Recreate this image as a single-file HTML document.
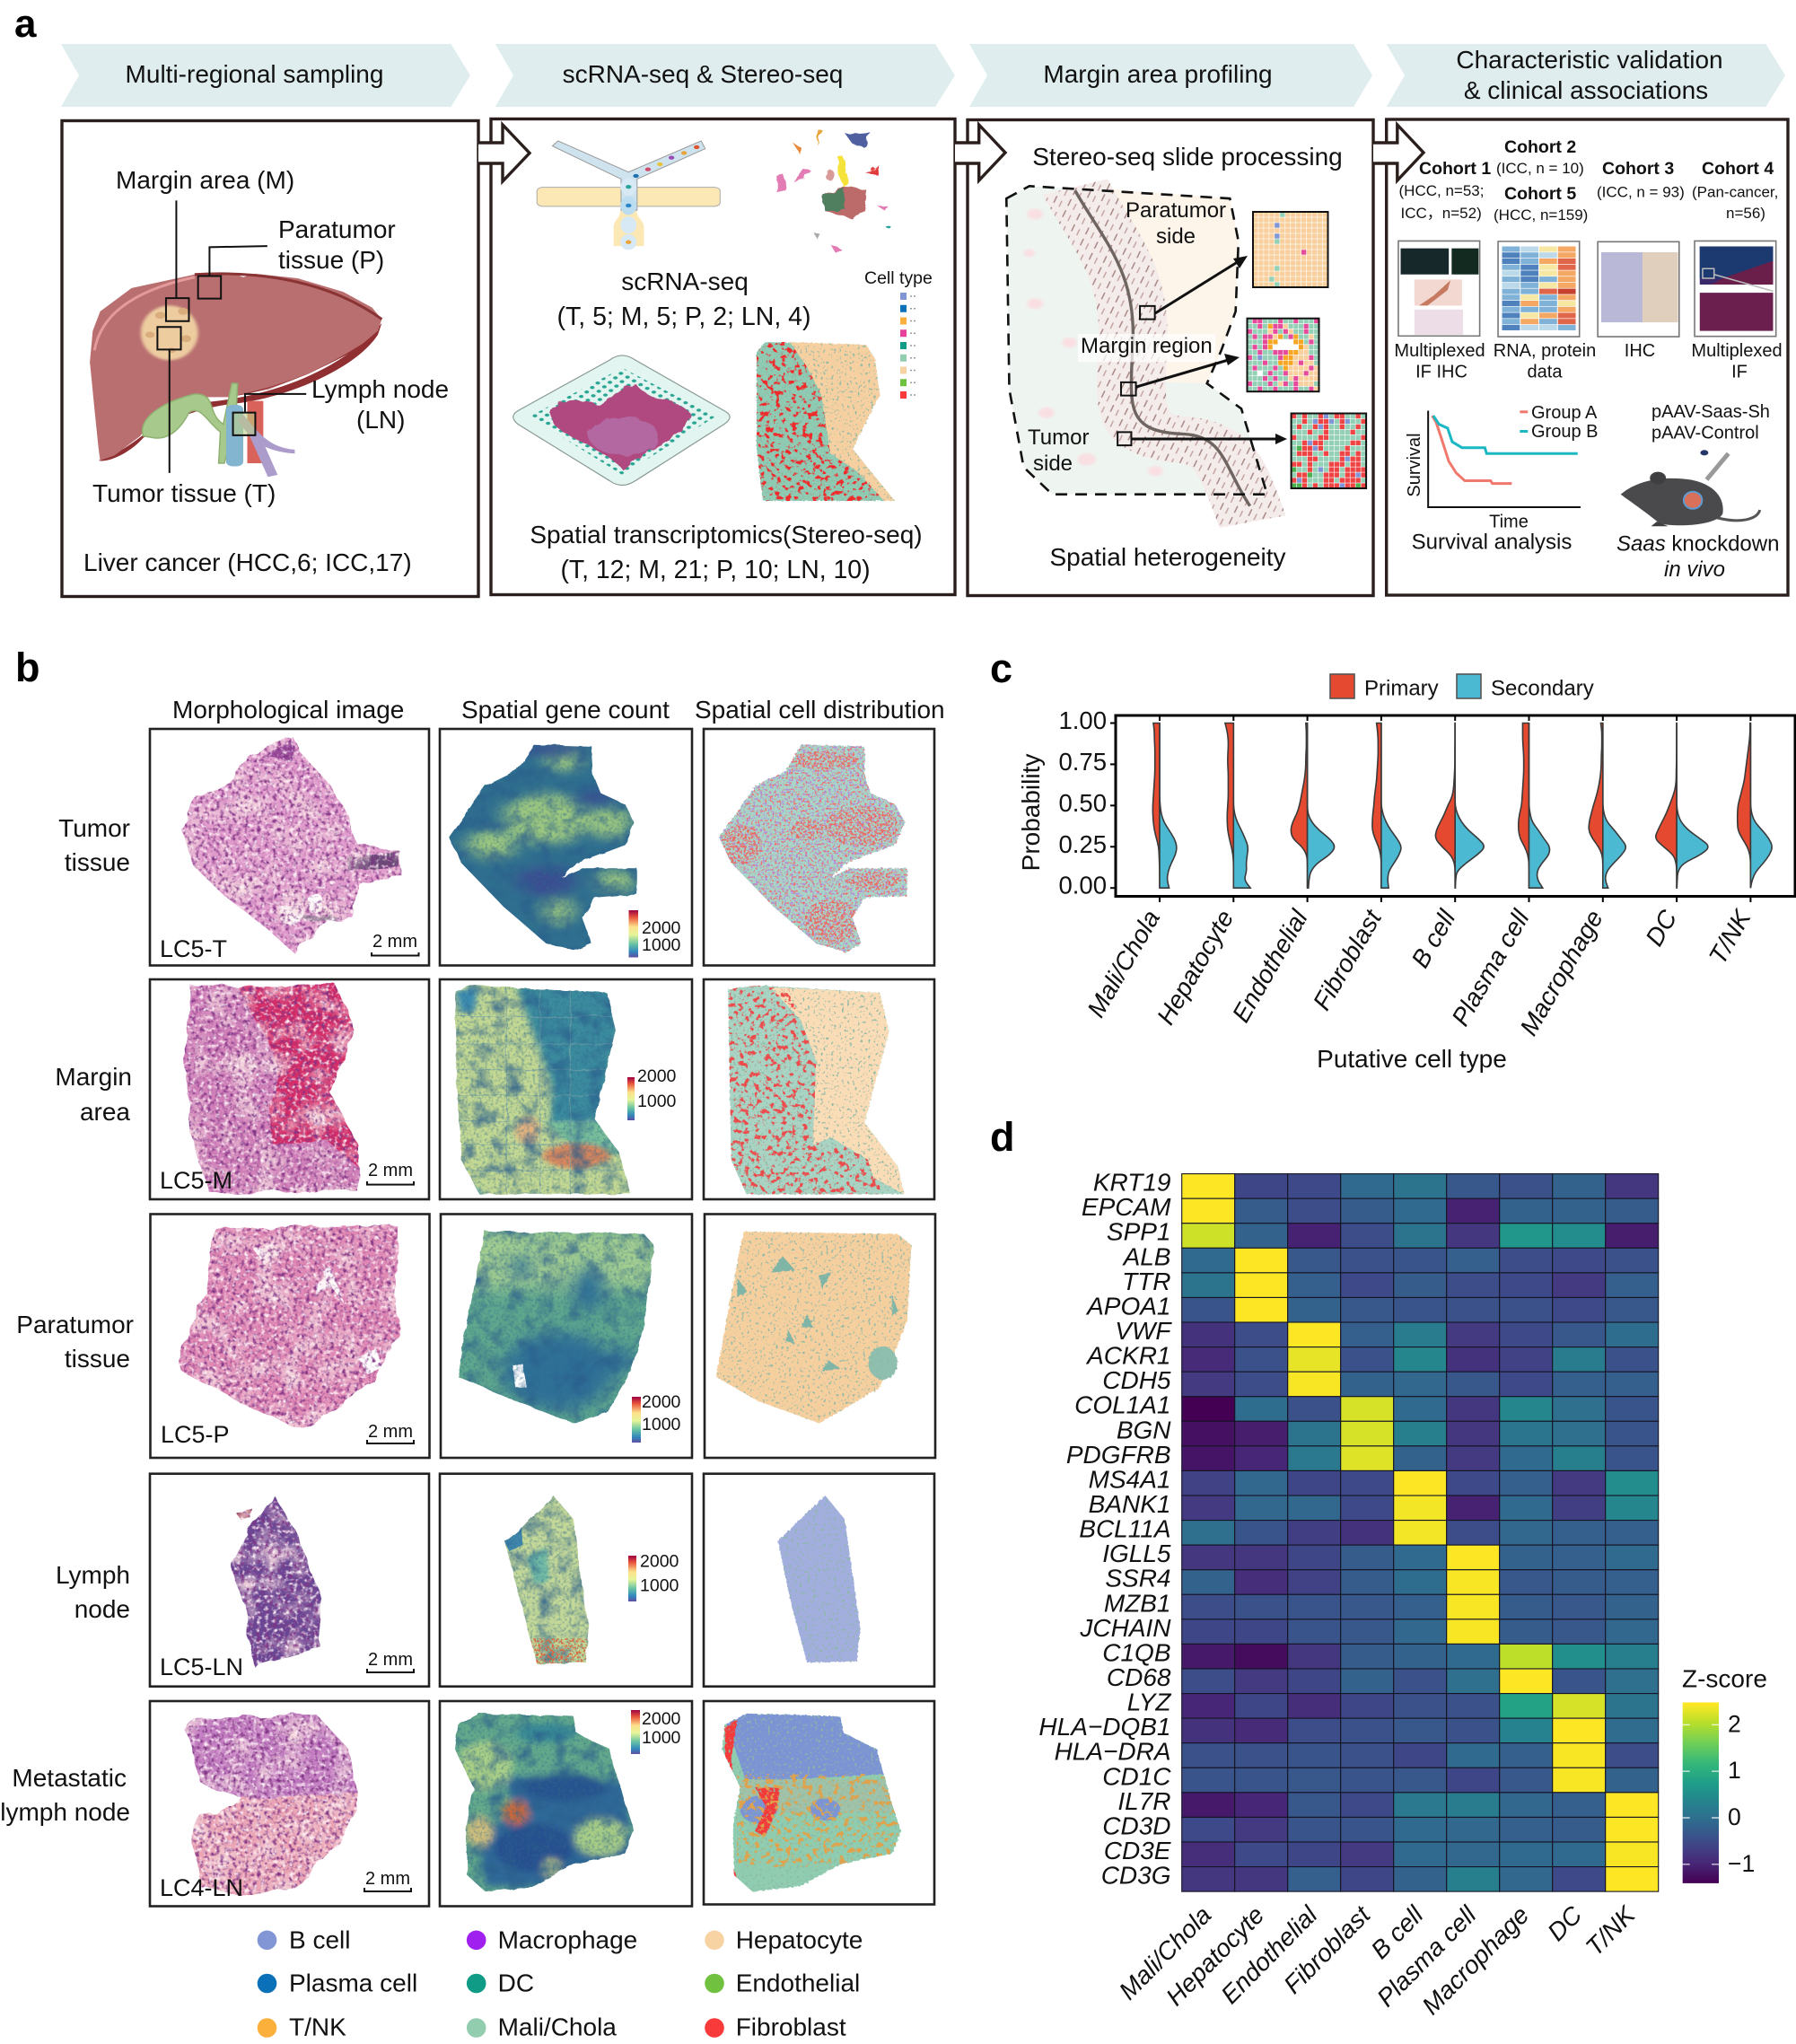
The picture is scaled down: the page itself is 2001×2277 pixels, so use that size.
<!DOCTYPE html>
<html lang="en">
<head>
<meta charset="utf-8">
<title>Spatial transcriptomics liver cancer figure</title>
<style>
html,body{margin:0;padding:0;background:#fff}
svg{display:block}
text{font-family:"Liberation Sans","Noto Sans CJK SC",sans-serif;fill:#111}
.f{fill:none;stroke:#222;stroke-width:2.6}
.b{fill:none;stroke:#2a1f1c;stroke-width:3.4}
.ns{vector-effect:non-scaling-stroke}
.sq{fill:none;stroke:#111;stroke-width:2;vector-effect:non-scaling-stroke}
</style>
</head>
<body>
<svg id="fig" xmlns="http://www.w3.org/2000/svg" width="2001" height="2277" viewBox="0 0 2001 2277">
<defs>
<linearGradient id="spectral" x1="0" y1="0" x2="0" y2="1">
<stop offset="0" stop-color="#9e0142"/><stop offset=".15" stop-color="#e8553c"/><stop offset=".35" stop-color="#fee08b"/><stop offset=".52" stop-color="#e6f598"/><stop offset=".72" stop-color="#66c2a5"/><stop offset=".88" stop-color="#3288bd"/><stop offset="1" stop-color="#5e4fa2"/>
</linearGradient>
<filter id="he" x="-5%" y="-5%" width="110%" height="110%" color-interpolation-filters="sRGB">
<feTurbulence type="fractalNoise" baseFrequency=".035" numOctaves="3" seed="7" result="n1"/>
<feTurbulence type="fractalNoise" baseFrequency=".22" numOctaves="2" seed="3" result="n2"/>
<feDisplacementMap in="SourceGraphic" in2="n1" scale="12" result="s"/>
<feColorMatrix in="n1" type="matrix" values="0 0 0 0 .96 0 0 0 0 .85 0 0 0 0 .87 0 2.4 0 0 -1.05" result="l"/>
<feComposite in="l" in2="s" operator="in" result="l2"/>
<feColorMatrix in="n2" type="matrix" values="0 0 0 0 .5 0 0 0 0 .2 0 0 0 0 .52 3 0 0 0 -1.4" result="d"/>
<feComposite in="d" in2="s" operator="in" result="d2"/>
<feColorMatrix in="n2" type="matrix" values="0 0 0 0 1 0 0 0 0 .95 0 0 0 0 .97 0 3 0 0 -1.5" result="w"/>
<feComposite in="w" in2="s" operator="in" result="w2"/>
<feMerge><feMergeNode in="s"/><feMergeNode in="l2"/><feMergeNode in="d2"/><feMergeNode in="w2"/></feMerge>
</filter>
<filter id="gene" x="-5%" y="-5%" width="110%" height="110%" color-interpolation-filters="sRGB">
<feTurbulence type="fractalNoise" baseFrequency=".055" numOctaves="3" seed="11" result="n1"/>
<feTurbulence type="fractalNoise" baseFrequency=".32" numOctaves="2" seed="4" result="n2"/>
<feDisplacementMap in="SourceGraphic" in2="n1" scale="5" result="s"/>
<feColorMatrix in="n1" type="matrix" values="0 0 0 0 .16 0 0 0 0 .36 0 0 0 0 .55 1.8 0 0 0 -.8" result="d"/>
<feComposite in="d" in2="s" operator="in" result="d2"/>
<feColorMatrix in="n2" type="matrix" values="0 0 0 0 .2 0 0 0 0 .42 0 0 0 0 .55 1.4 0 0 0 -.65" result="g"/>
<feComposite in="g" in2="s" operator="in" result="g2"/>
<feMerge><feMergeNode in="s"/><feMergeNode in="d2"/><feMergeNode in="g2"/></feMerge>
</filter>
<filter id="speck" x="-5%" y="-5%" width="110%" height="110%" color-interpolation-filters="sRGB">
<feTurbulence type="fractalNoise" baseFrequency=".38" numOctaves="2" seed="5" result="n"/>
<feDisplacementMap in="SourceGraphic" in2="n" scale="4" result="s"/>
<feColorMatrix in="n" type="matrix" values="0 0 0 0 .95 0 0 0 0 .42 0 0 0 0 .42 7 0 0 0 -3.9" result="r"/>
<feComposite in="r" in2="s" operator="in" result="r2"/>
<feColorMatrix in="n" type="matrix" values="0 0 0 0 .7 0 0 0 0 .55 0 0 0 0 .87 0 7 0 0 -3.9" result="m"/>
<feComposite in="m" in2="s" operator="in" result="m2"/>
<feMerge><feMergeNode in="s"/><feMergeNode in="r2"/><feMergeNode in="m2"/></feMerge>
</filter>
<filter id="speck2" x="-5%" y="-5%" width="110%" height="110%" color-interpolation-filters="sRGB">
<feTurbulence type="fractalNoise" baseFrequency=".34" numOctaves="2" seed="9" result="n"/>
<feDisplacementMap in="SourceGraphic" in2="n" scale="3" result="s"/>
<feColorMatrix in="n" type="matrix" values="0 0 0 0 .55 0 0 0 0 .72 0 0 0 0 .65 7 0 0 0 -4.2" result="r"/>
<feComposite in="r" in2="s" operator="in" result="r2"/>
<feMerge><feMergeNode in="s"/><feMergeNode in="r2"/></feMerge>
</filter>
<filter id="grain" x="-5%" y="-5%" width="110%" height="110%" color-interpolation-filters="sRGB">
<feTurbulence type="fractalNoise" baseFrequency=".4" numOctaves="2" seed="21" result="n"/>
<feColorMatrix in="n" type="matrix" values="0 0 0 0 0 0 0 0 0 0 0 0 0 0 0 9 0 0 0 -4.6" result="a"/>
<feComposite in="SourceGraphic" in2="a" operator="in"/>
</filter>
<filter id="grainS" x="-5%" y="-5%" width="110%" height="110%" color-interpolation-filters="sRGB">
<feTurbulence type="fractalNoise" baseFrequency=".17" numOctaves="3" seed="27" result="n"/>
<feColorMatrix in="n" type="matrix" values="0 0 0 0 0 0 0 0 0 0 0 0 0 0 0 10 0 0 0 -5.6" result="a"/>
<feComposite in="SourceGraphic" in2="a" operator="in"/>
</filter>
<filter id="rough" x="-5%" y="-5%" width="110%" height="110%">
<feTurbulence type="fractalNoise" baseFrequency=".08" numOctaves="2" seed="2" result="n"/>
<feDisplacementMap in="SourceGraphic" in2="n" scale="9"/>
</filter>
<filter id="blur6"><feGaussianBlur stdDeviation="6"/></filter>
<filter id="blur14" x="-40%" y="-40%" width="180%" height="180%"><feGaussianBlur stdDeviation="14"/></filter>
<filter id="blur3"><feGaussianBlur stdDeviation="3"/></filter>
<pattern id="hatch" width="26" height="30" patternUnits="userSpaceOnUse" patternTransform="rotate(18)">
<rect width="26" height="30" fill="#f4ecea"/>
<rect x="3" y="3" width="2.4" height="18" fill="#a58583"/>
<rect x="15" y="12" width="2.4" height="16" fill="#c4a4a2"/>
</pattern>
<pattern id="dots" width="15" height="15" patternUnits="userSpaceOnUse" patternTransform="rotate(40)">
<circle cx="7.5" cy="7.5" r="4" fill="#2aa594"/>
</pattern>
<clipPath id="c-t2"><path d="M880,318 975,322 978,400 990,450 1030,480 1045,530 1030,590 950,640 925,680 960,655 1050,655 1050,725 980,735 960,790 975,860 945,880 900,860 830,760 760,640 740,570 800,430 850,390Z"/></clipPath>
<clipPath id="c-t3"><path d="M1320,318 1425,322 1425,400 1435,450 1475,480 1492,530 1475,590 1395,640 1370,680 1400,655 1495,655 1495,730 1425,735 1405,790 1420,860 1395,885 1345,860 1275,760 1205,640 1185,570 1245,430 1295,390Z"/></clipPath>
<clipPath id="c-m2"><path d="M750,990 775,975 1000,995 1015,1100 980,1340 1020,1430 1040,1545 790,1545 760,1450 752,1200Z"/></clipPath>
<clipPath id="c-m3"><path d="M1200,985 1250,975 1300,985 1345,1180 1340,1410 1370,1390 1430,1450 1440,1500 1490,1545 1230,1545 1205,1450Z"/></clipPath>
<clipPath id="c-l2"><path d="M755,985 790,965 945,970 950,1000 1005,1030 1030,1130 1045,1180 1030,1220 945,1240 880,1280 800,1290 770,1260 768,1170 780,1100 750,1030Z"/></clipPath>
<clipPath id="c-l3"><path d="M1195,985 1230,965 1385,970 1390,1000 1445,1030 1470,1130 1485,1180 1470,1220 1385,1240 1320,1280 1240,1290 1210,1260 1208,1170 1220,1100 1190,1030Z"/></clipPath>
<clipPath id="c-n2"><path d="M912,567 945,610 970,810 965,870 885,875 860,770 832,650 860,625Z"/></clipPath>
<clipPath id="c-p2"><path d="M800,85 1060,88 1078,110 1060,270 1040,340 1000,415 945,435 830,385 755,350 770,250Z"/></clipPath>
<clipPath id="c-p3"><path d="M1225,85 1480,90 1502,110 1495,250 1450,370 1350,435 1250,395 1180,350 1205,200Z"/></clipPath>
<clipPath id="c-sm"><path d="M843,392 853,381 880,381 900,410 915,440 925,505 955,525 985,558 850,558 843,500Z"/></clipPath>
</defs>
<rect width="2001" height="2277" fill="#fff"/>

<!-- PANEL A -->
<g id="panel-a">
<text x="16" y="41" font-size="44" font-weight="700" style="fill:#000">a</text>
<g fill="#e0edee">
<polygon points="68,49 502.5,49 524,84 502.5,119 68,119 88,84"/>
<polygon points="551.7,49 1042,49 1064,84 1042,119 551.7,119 572,84"/>
<polygon points="1080,49 1508,49 1529,84 1508,119 1080,119 1100,84"/>
<polygon points="1544.7,49 1967.4,49 1989,84 1967.4,119 1544.7,119 1565,84"/>
</g>
<text x="283.5" y="92" font-size="28" text-anchor="middle">Multi-regional sampling</text>
<text x="783" y="92" font-size="28" text-anchor="middle">scRNA-seq &amp; Stereo-seq</text>
<text x="1290" y="92" font-size="28" text-anchor="middle">Margin area profiling</text>
<text x="1771" y="76" font-size="28" text-anchor="middle">Characteristic validation</text>
<text x="1767" y="110" font-size="28" text-anchor="middle">&amp; clinical associations</text>

<rect class="b" x="69" y="134.5" width="464" height="530"/>
<rect class="b" x="547" y="132.5" width="517" height="530"/>
<rect class="b" x="1078" y="133.5" width="452" height="530"/>
<rect class="b" x="1544.7" y="133" width="447.3" height="530"/>
<path class="b" style="fill:#fff" d="M533,159 L560,159 L560,139 L590,170.5 L560,202 L560,182 L533,182"/>
<path class="b" style="fill:#fff" d="M1064,159 L1090.7,159 L1090.7,139 L1120,170 L1090.7,201 L1090.7,182 L1064,182"/>
<path class="b" style="fill:#fff" d="M1530,159 L1556.8,159 L1556.8,139 L1586,170 L1556.8,201 L1556.8,182 L1530,182"/>

<!-- liver -->
<g transform="scale(.63775,.43365)">
<path d="M172,1183 C240,1150 270,1075 340,1035 C470,1025 600,950 667,830 L660,860 C620,950 500,1020 420,1035 C320,1050 280,1100 250,1125 C230,1160 190,1190 172,1183Z" fill="#8f2f31"/>
<path d="M175,800 230,740 340,705 410,703 425,712 445,703 520,715 600,750 650,790 667,820 660,850 620,900 540,960 470,1000 400,1020 340,1020 300,1040 265,1080 245,1120 200,1170 175,1183 172,1150 165,1050 157,930 162,850Z" fill="#b96f70"/>
<path d="M165,900 C175,820 220,750 340,712" fill="none" stroke="#e49a9b" stroke-width="3" class="ns"/>
<path d="M340,705 C520,690 620,770 667,820" fill="none" stroke="#8a3335" stroke-width="3" class="ns"/>
<path d="M620,900 C540,965 480,995 400,1020 C470,1005 560,960 667,850Z" fill="#922f32"/>
<ellipse cx="296" cy="855" rx="50" ry="70" fill="#edcca0" filter="url(#blur3)"/>
<circle cx="280" cy="810" r="9" fill="#d9ad7c"/><circle cx="320" cy="800" r="9" fill="#d9ad7c"/><circle cx="262" cy="860" r="8" fill="#d9ad7c"/><circle cx="325" cy="870" r="9" fill="#d9ad7c"/><circle cx="300" cy="900" r="7" fill="#d9ad7c"/>
<path d="M250,1120 C240,1070 290,1030 340,1012 C380,1012 360,1060 390,1090 L405,985 L415,985 L412,1080 L392,1190 L382,1190 L385,1110 C360,1080 350,1040 330,1060 C320,1090 300,1130 270,1125Z" fill="#a8c98c" stroke="#8fb070" stroke-width="1.5" class="ns"/>
<rect x="395" y="1040" width="30" height="158" rx="12" fill="#84b5d0"/>
<rect x="432" y="1030" width="28" height="160" fill="#d9625b"/>
<path d="M425,1065 C450,1110 470,1150 515,1155 L515,1165 C460,1160 440,1130 415,1080Z M430,1100 L455,1120 L485,1220 L468,1225Z" fill="#ac9ccb"/>
<rect x="407" y="1060" width="39" height="58" fill="#bcd087" opacity=".6"/>
<rect class="sq" x="290" y="766" width="40" height="59"/>
<rect class="sq" x="275" y="840" width="41" height="58"/>
<rect class="sq" x="346" y="709" width="40" height="58"/>
<rect class="sq" x="407" y="1060" width="39" height="58"/>
<path class="sq" d="M308,515 V766 M296,898 V1215 M366,709 V635 L467,632 M428,1060 V1012 H535"/>
</g>
<g font-size="28">
<text x="129" y="210">Margin area (M)</text>
<text x="310" y="265">Paratumor</text>
<text x="310" y="299">tissue (P)</text>
<text x="347" y="443">Lymph node</text>
<text x="397" y="477">(LN)</text>
<text x="103" y="559">Tumor tissue (T)</text>
<text x="93" y="636">Liver cancer (HCC,6; ICC,17)</text>
</g>

<!-- sequencing box -->
<g transform="scale(.63775,.43365)">
<rect x="938" y="481" width="320" height="49" rx="10" fill="#fbe8b4" stroke="#aaa" stroke-width="1" class="ns"/>
<path d="M1072,632 V585 C1072,565 1084,560 1084,540 H1112 C1112,560 1125,565 1125,585 V632Z" fill="#fbe8b4"/>
<path d="M965,375 L975,362 L1098,442 L1225,362 L1232,382 L1113,460 L1113,540 L1085,540 L1085,460Z" fill="#cfe3ef" stroke="#9a9a9a" stroke-width="1" class="ns"/>
<ellipse cx="1098" cy="480" rx="14" ry="22" fill="#d6e9f5"/><ellipse cx="1098" cy="528" rx="14" ry="24" fill="#bcdcf0"/><ellipse cx="1098" cy="578" rx="14" ry="22" fill="#d6e9f5"/><ellipse cx="1098" cy="622" rx="14" ry="20" fill="#d6e9f5"/>
<circle cx="1098" cy="480" r="5" fill="#2ba59c"/><circle cx="1098" cy="528" r="5" fill="#2a86c8"/><circle cx="1098" cy="622" r="5" fill="#e9a43a"/>
<circle cx="1111" cy="452" r="5" fill="#1f6fb2"/><circle cx="1132" cy="435" r="5" fill="#d24a6a"/><circle cx="1153" cy="422" r="5" fill="#e9c43a"/><circle cx="1173" cy="405" r="5" fill="#9a4ab2"/><circle cx="1195" cy="393" r="5" fill="#e9a43a"/><circle cx="1217" cy="378" r="5" fill="#e0552f"/>
</g>
<g filter="url(#rough)">
<g transform="scale(.63775,.43365)">
<path d="M1438,510 1470,475 1515,490 1510,540 1490,565 1440,540Z" fill="#bd6a6b"/>
<path d="M1438,510 1472,478 1478,540 1440,540Z" fill="#4f7f5f"/>
<path d="M1462,400 1472,400 1482,472 1470,475Z" fill="#f5e23a"/>
<path d="M1478,345 1520,340 1510,380 1490,370Z" fill="#4f5fa0"/>
<path d="M1355,450 1370,450 1372,490 1358,495Z M1400,430 1418,440 1402,465 1388,470Z M1530,525 1552,530 1545,540Z M1452,630 1470,640 1460,650Z" fill="#e37cb5"/>
<path d="M1426,330 1434,330 1428,375Z" fill="#e9a43a"/><path d="M1388,370 1398,375 1396,395Z" fill="#e98a3a"/>
<path d="M1512,445 1536,425 1530,445Z" fill="#e23b3b"/>
<path d="M1420,595 1432,600 1430,618Z" fill="#aaa"/><circle cx="1552" cy="583" r="4" fill="#2ba59c"/>
<ellipse cx="1450" cy="450" rx="8" ry="14" fill="#d99a9a"/>
</g></g>
<text x="763" y="323" font-size="28" text-anchor="middle">scRNA-seq</text>
<text x="762" y="362" font-size="28.5" text-anchor="middle">(T, 5; M, 5; P, 2; LN, 4)</text>
<text x="963" y="316" font-size="19.5">Cell type</text>
<g id="mini-legend"></g>
<g transform="scale(.63775,.43365)">
<path d="M1087,913 Q1098,913 1110,925 L1265,1055 Q1285,1070 1265,1090 L1110,1235 Q1087,1258 1065,1235 L905,1090 Q888,1070 905,1055 L1065,925 Q1076,913 1087,913Z" fill="#e2f5f0" stroke="#8a9a95" stroke-width="1.2" class="ns"/>
<path id="slide-dots" d="M1087,945 L1250,1070 L1087,1220 L925,1070Z" fill="url(#dots)"/>
</g>
<g filter="url(#rough)">
<g transform="scale(.63775,.43365)">
<path d="M962,1075 C960,1030 1000,1015 1045,1040 C1060,1020 1100,1000 1110,985 C1130,1030 1180,1020 1205,1060 C1215,1100 1150,1130 1090,1210 C1060,1150 970,1120 962,1075Z" fill="#b0487f"/>
<ellipse cx="1090" cy="1120" rx="60" ry="50" fill="#b576b0" opacity=".7"/>
</g></g>
<g filter="url(#speck2)">
<path d="M843,392 853,381 965,384 975,400 980,440 950,500 970,525 997,558 850,558 843,500Z" fill="#8fcab3"/>
<path d="M880,381 965,384 975,400 980,440 950,500 970,525 997,558 985,558 955,525 925,505 915,440 900,410Z" fill="#f6d0a0"/>
</g>
<g clip-path="url(#c-sm)"><g filter="url(#grainS)">
<rect x="843" y="381" width="155" height="178" fill="#f02a2a"/>
</g></g>
<text x="809" y="605" font-size="28" text-anchor="middle">Spatial transcriptomics(Stereo-seq)</text>
<text x="797" y="644" font-size="28.4" text-anchor="middle">(T, 12; M, 21; P, 10; LN, 10)</text>

<!-- profiling box -->
<text x="1323" y="184" font-size="28" text-anchor="middle">Stereo-seq slide processing</text>
<g transform="translate(1000,0) scale(.6384,.43365)">
<path d="M190,510 230,478 580,510 595,620 590,800 565,900 540,985 600,1050 645,1270 270,1270 220,1200 195,1000Z" fill="#eef5f1"/>
<path d="M320,480 580,510 595,620 590,800 565,900 540,985 440,980 470,780 420,600Z" fill="#fdf4ea"/>
<g fill="#f9dfe2" filter="url(#blur3)"><circle cx="240" cy="550" r="14"/><circle cx="290" cy="530" r="16"/><circle cx="240" cy="780" r="14"/><circle cx="300" cy="880" r="13"/><circle cx="260" cy="1060" r="14"/><circle cx="330" cy="1180" r="16"/><circle cx="450" cy="1210" r="13"/><circle cx="230" cy="650" r="10"/></g>
<path d="M310,480 C360,620 420,700 410,900 C405,1050 400,1120 500,1130 C580,1140 590,1230 620,1340" fill="none" stroke="url(#hatch)" stroke-width="120"/>
<path d="M310,490 C360,620 420,700 410,900 C405,1050 400,1110 500,1115 C570,1120 570,1200 615,1300" fill="none" stroke="#6f6560" stroke-width="3.4" class="ns"/>
<path d="M190,510 230,478 580,510 595,620 590,800 565,900 540,985 600,1050 645,1270 270,1270 220,1200 195,1000Z" fill="none" stroke="#111" stroke-width="2.6" stroke-dasharray="13 9" class="ns"/>
<rect x="315" y="858" width="240" height="72" fill="#fff" opacity=".72"/>
<rect class="sq" x="423" y="786" width="26" height="34"/>
<rect class="sq" x="390" y="982" width="26" height="34"/>
<rect class="sq" x="384" y="1110" width="24" height="34"/>
</g>
<g stroke="#111" stroke-width="3" fill="#111">
<path d="M1287,349 L1385,288" fill="none"/><polygon points="1390,285 1374,288 1381,299" stroke="none"/>
<path d="M1266,431 L1372,400" fill="none"/><polygon points="1381,398 1364,394 1368,407" stroke="none"/>
<path d="M1261,489 L1425,489" fill="none"/><polygon points="1434,489 1421,483 1421,495" stroke="none"/>
</g>
<g id="insets"></g>
<g font-size="24">
<text x="1254" y="242">Paratumor</text>
<text x="1310" y="271" text-anchor="middle">side</text>
<text x="1204" y="393">Margin region</text>
<text x="1145" y="495">Tumor</text>
<text x="1151" y="524">side</text>
</g>
<text x="1301" y="630" font-size="28" text-anchor="middle">Spatial heterogeneity</text>

<!-- validation box -->
<g font-size="19.5" font-weight="700" style="font-weight:700">
<text x="1676" y="170">Cohort 2</text>
<text x="1581" y="194">Cohort 1</text>
<text x="1676" y="222">Cohort 5</text>
<text x="1785" y="194">Cohort 3</text>
<text x="1896" y="194">Cohort 4</text>
</g>
<g font-size="17">
<text x="1667" y="193">(ICC, n = 10)</text>
<text x="1558.5" y="218">(HCC, n=53;</text>
<text x="1560.5" y="243">ICC，n=52)</text>
<text x="1664" y="245">(HCC, n=159)</text>
<text x="1779" y="219.5">(ICC, n = 93)</text>
<text x="1885" y="219.5">(Pan-cancer,</text>
<text x="1923" y="243">n=56)</text>
</g>
<g transform="translate(1000,0) scale(.6384,.43365)">
<g>
<rect x="874" y="619" width="142" height="244" fill="#fff" stroke="#777" stroke-width="1.6" class="ns"/>
<rect x="878" y="638" width="84" height="67" fill="#17282a"/><rect x="967" y="638" width="47" height="67" fill="#122a20"/>
<rect x="902" y="718" width="83" height="67" fill="#f2d8d0"/><rect x="902" y="795" width="85" height="65" fill="#ecdde6"/>
<path d="M965,720 L935,760 L910,785 L925,785 L960,745Z" fill="#c77a62"/>
</g>
<rect x="1048" y="620" width="142" height="245" fill="#fff" stroke="#777" stroke-width="1.6" class="ns"/>
<g id="mini-heatmap"></g>
<g>
<rect x="1222" y="621" width="142" height="244" fill="#fff" stroke="#777" stroke-width="1.6" class="ns"/>
<rect x="1228" y="648" width="74" height="180" fill="#b9b8d6"/><rect x="1300" y="648" width="62" height="180" fill="#e0cfbc"/>
</g>
<g>
<rect x="1391" y="619" width="142" height="245" fill="#fff" stroke="#777" stroke-width="1.6" class="ns"/>
<rect x="1400" y="633" width="128" height="98" fill="#3a2a6a"/><path d="M1400,633 H1528 V680 L1440,715 H1400Z" fill="#1d3a70"/><path d="M1440,715 1528,670 1528,731 1420,731Z" fill="#6a1f4a"/>
<rect x="1400" y="752" width="128" height="98" fill="#6a1f4f"/>
<path d="M1405,690 H1425 V715 H1405Z M1425,705 L1528,748" fill="none" stroke="#bbb" stroke-width="1.5" class="ns"/>
</g>
<path d="M926,1055 V1303 H1192" fill="none" stroke="#111" stroke-width="2" class="ns"/>
<path d="M933,1068 L940,1085 L950,1130 L962,1185 L975,1215 L990,1235 L1035,1235 L1038,1242 L1072,1242" fill="none" stroke="#f0786c" stroke-width="3" class="ns"/>
<path d="M935,1068 L945,1090 L960,1100 L968,1135 L985,1150 L1025,1150 L1028,1165 L1187,1165" fill="none" stroke="#1bb8c4" stroke-width="3" class="ns"/>
<path d="M1086,1058 H1100" stroke="#f0786c" stroke-width="3" class="ns"/>
<path d="M1086,1108 H1100" stroke="#1bb8c4" stroke-width="3" class="ns"/>
<g>
<path d="M1430,1330 C1470,1345 1500,1335 1505,1310" fill="none" stroke="#555" stroke-width="3" class="ns"/>
<path d="M1262,1270 C1290,1235 1330,1225 1370,1230 C1420,1235 1445,1275 1440,1320 C1430,1350 1360,1355 1330,1345 C1310,1320 1290,1300 1262,1270Z" fill="#4a4a4c"/>
<ellipse cx="1327" cy="1228" rx="14" ry="16" fill="#3f3f41"/>
<path d="M1325,1340 L1345,1352 L1315,1352Z" fill="#3f3f41"/>
<ellipse cx="1388" cy="1285" rx="16" ry="22" fill="#d9705a" stroke="#5c9ad0" stroke-width="2" class="ns"/>
<path d="M1412,1232 L1450,1165" stroke="#9a9a9a" stroke-width="5" class="ns"/>
<circle cx="1408" cy="1163" r="7" fill="#25366a"/>
</g>
</g>
<g font-size="20">
<text x="1604" y="397" text-anchor="middle">Multiplexed</text>
<text x="1606" y="420.5" text-anchor="middle">IF IHC</text>
<text x="1721" y="397" text-anchor="middle">RNA, protein</text>
<text x="1721" y="420.5" text-anchor="middle">data</text>
<text x="1827" y="397" text-anchor="middle">IHC</text>
<text x="1935" y="397" text-anchor="middle">Multiplexed</text>
<text x="1938" y="420.5" text-anchor="middle">IF</text>
<text x="1681" y="587.5" text-anchor="middle">Time</text>
<text x="1706" y="466">Group A</text>
<text x="1706" y="487">Group B</text>
<text x="1840" y="465">pAAV-Saas-Sh</text>
<text x="1840" y="488.5">pAAV-Control</text>
<text transform="translate(1582,518) rotate(-90)" text-anchor="middle">Survival</text>
</g>
<text x="1662" y="611.5" font-size="24" text-anchor="middle">Survival analysis</text>
<text x="1801" y="613.5" font-size="24"><tspan font-style="italic">Saas</tspan> knockdown</text>
<text x="1888" y="642" font-size="24" font-style="italic" text-anchor="middle">in vivo</text>
</g>

<!-- PANEL B -->
<g id="panel-b">
<text x="17" y="759" font-size="45" font-weight="700" style="fill:#000;font-weight:700">b</text>
<g font-size="28">
<text x="192" y="800">Morphological image</text>
<text x="514" y="800">Spatial gene count</text>
<text x="774" y="800">Spatial cell distribution</text>
</g>
<g font-size="28" text-anchor="end">
<text x="145" y="932">Tumor</text>
<text x="145" y="970">tissue</text>
<text x="147" y="1209">Margin</text>
<text x="145" y="1248">area</text>
<text x="149" y="1485">Paratumor</text>
<text x="145" y="1523">tissue</text>
<text x="145" y="1764">Lymph</text>
<text x="145" y="1802">node</text>
<text x="141" y="1990">Metastatic</text>
<text x="145" y="2028">lymph node</text>
</g>

<!-- Row 1 -->
<g filter="url(#he)">
<g transform="translate(0,700) scale(.676,.408)">
<path d="M470,298 485,300 490,330 540,420 570,500 590,590 660,610 665,680 590,700 580,790 540,800 500,860 490,895 440,820 370,730 320,650 298,550 320,470 380,410 410,350Z" fill="#e09acb"/>
<path d="M570,620 660,610 660,655 570,655Z" fill="#6b4a78"/><path d="M490,780 555,785 550,798 495,795Z" fill="#7d6a85"/>
<path d="M440,350 480,300 480,360Z" fill="#9a4a9a"/>
<ellipse cx="480" cy="780" rx="20" ry="30" fill="#fff"/><ellipse cx="520" cy="750" rx="15" ry="25" fill="#fff"/>
</g></g>
<g filter="url(#gene)">
<g transform="translate(0,700) scale(.676,.408)"><g clip-path="url(#c-t2)">
<rect x="730" y="310" width="330" height="580" fill="#2f6f8f"/>
<g filter="url(#blur14)" fill="#9cc77f">
<ellipse cx="900" cy="520" rx="70" ry="70"/><ellipse cx="1005" cy="530" rx="35" ry="45"/><ellipse cx="1015" cy="690" rx="30" ry="30"/><ellipse cx="810" cy="590" rx="40" ry="40"/><ellipse cx="930" cy="360" rx="30" ry="30"/><ellipse cx="920" cy="770" rx="25" ry="40"/></g>
<g filter="url(#blur14)" fill="#3b4d92"><ellipse cx="900" cy="330" rx="60" ry="15"/><ellipse cx="900" cy="690" rx="50" ry="40"/><ellipse cx="980" cy="460" rx="30" ry="20"/></g>
</g></g></g>
<g filter="url(#speck)">
<g transform="translate(0,700) scale(.676,.408)">
<path d="M1320,318 1425,322 1425,400 1435,450 1475,480 1492,530 1475,590 1395,640 1370,680 1400,655 1495,655 1495,730 1425,735 1405,790 1420,860 1395,885 1345,860 1275,760 1205,640 1185,570 1245,430 1295,390Z" fill="#a7d6c8"/>
</g></g>
<g filter="url(#grain)">
<g transform="translate(0,700) scale(.676,.408)"><g clip-path="url(#c-t3)" fill="#ea6a60">
<ellipse cx="1220" cy="590" rx="35" ry="55"/><ellipse cx="1420" cy="540" rx="60" ry="55"/><ellipse cx="1370" cy="800" rx="45" ry="60"/><ellipse cx="1440" cy="690" rx="45" ry="25"/><ellipse cx="1330" cy="550" rx="28" ry="28"/><ellipse cx="1360" cy="360" rx="55" ry="25"/>
</g></g></g>
<!-- Row 2 -->
<g filter="url(#he)">
<g transform="translate(0,700) scale(.676,.408)">
<path d="M315,975 555,975 558,1040 585,1100 555,1200 545,1270 590,1410 592,1540 345,1540 325,1430 310,1370 305,1100Z" fill="#d07fb8"/>
<path d="M390,975 555,975 585,1100 545,1270 590,1410 590,1470 540,1400 450,1410 445,1300 460,1200 440,1120Z" fill="#d42d68"/>
</g></g>
<g filter="url(#gene)">
<g transform="translate(0,700) scale(.676,.408)"><g clip-path="url(#c-m2)">
<rect x="740" y="970" width="310" height="580" fill="#c3d892"/>
<path d="M850,975 1010,985 1020,1100 990,1350 1000,1380 905,1350 910,1250 890,1150Z" fill="#3a8b9e" filter="url(#blur6)"/>
<path d="M900,1350 990,1340 1030,1430 1000,1440 930,1400Z" fill="#79bf9a" filter="url(#blur6)"/>
<ellipse cx="950" cy="1440" rx="55" ry="35" fill="#d9865c" filter="url(#blur6)"/>
<ellipse cx="870" cy="1370" rx="20" ry="40" fill="#e2b27f" filter="url(#blur6)"/>
<path d="M750,990 790,980 780,1050 760,1050Z M755,1500 800,1545 770,1545Z" fill="#3a8bb0" filter="url(#blur6)"/>
<path d="M750,1060 H1020 M750,1135 H1020 M750,1205 H1020 M750,1275 H1020 M750,1345 H1020 M750,1410 H1040 M750,1480 H1040 M890,975 V1545 M835,975 V1545 M940,975 V1545" stroke="#7fa9ac" stroke-width="1" class="ns" opacity=".7"/>
</g></g></g>
<g filter="url(#speck2)">
<g transform="translate(0,700) scale(.676,.408)">
<path d="M1200,985 1250,975 1450,995 1465,1100 1425,1350 1480,1470 1490,1545 1230,1545 1205,1450Z" fill="#a9d3c3"/>
<path d="M1270,980 1450,995 1465,1100 1425,1350 1480,1470 1490,1545 1440,1500 1430,1450 1370,1390 1340,1410 1345,1180 1320,1070Z" fill="#fadcb6"/>
</g></g>
<g filter="url(#grainS)">
<g transform="translate(0,700) scale(.676,.408)"><g clip-path="url(#c-m3)">
<rect x="1190" y="970" width="160" height="440" fill="#ec4b4b"/>
<rect x="1190" y="1410" width="260" height="140" fill="#ec4b4b"/>
</g></g></g>
<!-- Rows 3-5 -->
<g filter="url(#he)">
<g transform="translate(0,1320) scale(.676,.6103)">
<path d="M355,78 655,75 655,270 620,350 520,440 480,440 400,400 300,340 295,320 340,190Z" fill="#e088b4"/>
<path d="M515,200 545,150 565,215 545,185Z M590,315 625,305 630,335 605,345Z M420,120 450,105 460,130 435,145Z" fill="#fff"/>
</g></g>
<g filter="url(#gene)">
<g transform="translate(0,1320) scale(.676,.6103)"><g clip-path="url(#c-p2)">
<rect x="750" y="80" width="335" height="360" fill="#5fa78d"/>
<rect x="750" y="80" width="335" height="110" fill="#a2cd90" filter="url(#blur14)"/>
<g filter="url(#blur14)" fill="#2f6f97"><ellipse cx="920" cy="340" rx="90" ry="70"/><ellipse cx="970" cy="190" rx="25" ry="40"/><ellipse cx="860" cy="150" rx="16" ry="18"/><ellipse cx="1025" cy="320" rx="18" ry="25"/></g>
<path d="M846,330 860,325 868,370 850,370Z" fill="#fff"/>
</g></g></g>
<g filter="url(#speck2)">
<g transform="translate(0,1320) scale(.676,.6103)">
<path d="M1225,85 1480,90 1502,110 1495,250 1450,370 1350,435 1250,395 1180,350 1205,200Z" fill="#f6cf9f"/>
<ellipse cx="1455" cy="325" rx="24" ry="30" fill="#8fbfae"/>
<g fill="#7fb5a7"><path d="M1290,130 1310,155 1270,160Z M1350,165 1370,160 1355,190Z M1300,265 1310,290 1295,285Z M1330,235 1340,260 1320,260Z M1365,320 1385,335 1355,340Z M1215,170 1232,195 1215,205Z M1470,200 1480,230 1470,240Z"/></g>
</g></g>
<g filter="url(#he)">
<g transform="translate(0,1320) scale(.676,.6103)">
<path d="M455,570 490,640 525,740 530,845 420,880 405,780 380,690 400,640Z" fill="#6a4794"/>
<path d="M390,600 415,590 415,610 398,612Z" fill="#8a2438"/>
</g></g>
<g filter="url(#gene)">
<g transform="translate(0,1320) scale(.676,.6103)"><g clip-path="url(#c-n2)">
<rect x="825" y="560" width="150" height="320" fill="#c4d898"/>
<path d="M832,650 860,625 860,655 840,670Z" fill="#3f86ac"/><path d="M870,680 900,660 905,720 880,730Z" fill="#6fb9a4" filter="url(#blur3)"/>
</g></g></g>
<g filter="url(#grain)">
<g transform="translate(0,1320) scale(.676,.6103)"><g clip-path="url(#c-n2)">
<rect x="860" y="828" width="120" height="50" fill="#d8673f"/>
</g></g></g>
<g filter="url(#speck2)">
<g transform="translate(0,1320) scale(.676,.6103)">
<path d="M1360,567 1392,610 1418,810 1412,870 1330,872 1305,770 1282,650 1305,625Z" fill="#a2aedd"/>
</g></g>
<g filter="url(#he)">
<g transform="translate(0,1320) scale(.676,.6103)">
<path d="M320,975 520,965 575,1030 590,1110 400,1120 330,1090 310,1000Z" fill="#c47fc2"/>
<path d="M400,1120 590,1110 570,1190 500,1270 400,1300 330,1280 318,1200 330,1150Z" fill="#eba5b5"/>
</g></g>
<g filter="url(#gene)">
<g transform="translate(0,1320) scale(.676,.6103)"><g clip-path="url(#c-l2)">
<rect x="745" y="960" width="305" height="335" fill="#63a98b"/>
<g filter="url(#blur6)">
<path d="M830,1080 1030,1090 1040,1230 880,1280 800,1280 790,1180 850,1150Z" fill="#2f6898"/>
<ellipse cx="930" cy="1100" rx="70" ry="25" fill="#27538f"/>
<ellipse cx="880" cy="1210" rx="65" ry="45" fill="#27508f"/>
<ellipse cx="990" cy="1190" rx="45" ry="35" fill="#a7cc86"/>
<ellipse cx="800" cy="1060" rx="45" ry="45" fill="#a9cf86"/>
<ellipse cx="790" cy="1180" rx="22" ry="30" fill="#cdbd7c"/>
<ellipse cx="850" cy="1145" rx="22" ry="24" fill="#c8683c"/>
<ellipse cx="910" cy="1248" rx="16" ry="18" fill="#c8cc82"/>
<ellipse cx="900" cy="1000" rx="50" ry="18" fill="#378a96"/>
</g>
</g></g></g>
<g filter="url(#speck2)">
<g transform="translate(0,1320) scale(.676,.6103)"><g clip-path="url(#c-l3)">
<rect x="1180" y="960" width="310" height="335" fill="#8fccb0"/>
<path d="M1190,960 H1460 V1075 L1310,1085 L1230,1090 L1215,1040Z" fill="#7d94d4"/>
<rect x="1220" y="1085" width="260" height="60" fill="#9fc2a8"/>
<ellipse cx="1250" cy="1140" rx="30" ry="25" fill="#7d94d4"/><ellipse cx="1360" cy="1140" rx="25" ry="20" fill="#7d94d4"/>
<path d="M1195,990 1215,975 1205,1050 1215,1130 1205,1130 1195,1040Z M1245,1100 1285,1100 1280,1140 1260,1190 1245,1180 1262,1135Z M1205,1230 1220,1285 1240,1290 1210,1290Z" fill="#f53a3a"/>
</g></g></g>
<g filter="url(#grainS)">
<g transform="translate(0,1320) scale(.676,.6103)"><g clip-path="url(#c-l3)">
<rect x="1215" y="1075" width="265" height="170" fill="#e0a24a"/>
</g></g></g>

<!-- Frames -->
<g>
<rect class="f" x="167" y="812" width="311" height="263.5"/>
<rect class="f" x="490" y="812" width="281" height="263.5"/>
<rect class="f" x="784" y="812" width="257" height="263.5"/>
<rect class="f" x="167" y="1091" width="311" height="245"/>
<rect class="f" x="490" y="1091" width="281" height="245"/>
<rect class="f" x="784" y="1091" width="257" height="245"/>
<rect class="f" x="167.5" y="1352.5" width="311" height="271.5"/>
<rect class="f" x="491" y="1352.5" width="280" height="271.5"/>
<rect class="f" x="785" y="1352.5" width="257" height="271.5"/>
<rect class="f" x="167" y="1641.7" width="311" height="237"/>
<rect class="f" x="490" y="1641.7" width="281" height="237"/>
<rect class="f" x="784" y="1641.7" width="257" height="237"/>
<rect class="f" x="167" y="1895" width="311" height="228.5"/>
<rect class="f" x="490" y="1895" width="281" height="228.5"/>
<rect class="f" x="784" y="1895" width="257" height="226.5"/>
</g>
<g font-size="27">
<text x="178" y="1066">LC5-T</text>
<text x="178" y="1324">LC5-M</text>
<text x="179" y="1607">LC5-P</text>
<text x="178" y="1866">LC5-LN</text>
<text x="178" y="2112">LC4-LN</text>
</g>
<g font-size="20" text-anchor="middle">
<text x="440" y="1055">2 mm</text>
<text x="435" y="1310">2 mm</text>
<text x="435" y="1601">2 mm</text>
<text x="435" y="1855">2 mm</text>
<text x="432" y="2099">2 mm</text>
</g>
<g fill="none" stroke="#111" stroke-width="2">
<path d="M414,1061 V1064.5 H466.5 V1061"/>
<path d="M409,1316 V1319.6 H461 V1316"/>
<path d="M409,1604 V1608 H461 V1604"/>
<path d="M409,1859 V1863 H461 V1859"/>
<path d="M406,2103 V2107 H458 V2103"/>
</g>
<g fill="url(#spectral)">
<rect x="700.5" y="1014" width="10.5" height="52.5"/>
<rect x="699" y="1200" width="8" height="48"/>
<rect x="704" y="1556" width="10" height="51"/>
<rect x="700" y="1733" width="9" height="51"/>
<rect x="703" y="1905" width="10" height="49"/>
</g>
<g font-size="19.5">
<text x="715" y="1040">2000</text><text x="715" y="1059">1000</text>
<text x="710" y="1205">2000</text><text x="710" y="1233">1000</text>
<text x="715" y="1568">2000</text><text x="715" y="1593">1000</text>
<text x="713" y="1745.5">2000</text><text x="713" y="1772.5">1000</text>
<text x="715" y="1921">2000</text><text x="715" y="1942">1000</text>
</g>
<!-- legend -->
<g>
<g><circle cx="297.5" cy="2161.3" r="10.8" fill="#8296d6"/><text x="322" y="2170.4" font-size="28">B cell</text></g>
<g><circle cx="297.5" cy="2209.5" r="10.8" fill="#0a70b8"/><text x="322" y="2218.5" font-size="28">Plasma cell</text></g>
<g><circle cx="297.5" cy="2259" r="10.8" fill="#fbb03b"/><text x="322" y="2267.5" font-size="28">T/NK</text></g>
<g><circle cx="530.7" cy="2161.3" r="10.8" fill="#a020f0"/><text x="554.6" y="2170.4" font-size="28">Macrophage</text></g>
<g><circle cx="530.7" cy="2209.5" r="10.8" fill="#0f9b85"/><text x="554.6" y="2218.5" font-size="28">DC</text></g>
<g><circle cx="530.7" cy="2259" r="10.8" fill="#92cdb0"/><text x="554.6" y="2267.5" font-size="28">Mali/Chola</text></g>
<g><circle cx="796" cy="2161.3" r="10.8" fill="#f7d3a3"/><text x="819.7" y="2170.4" font-size="28">Hepatocyte</text></g>
<g><circle cx="796" cy="2209.5" r="10.8" fill="#6fc13f"/><text x="819.7" y="2218.5" font-size="28">Endothelial</text></g>
<g><circle cx="796" cy="2259" r="10.8" fill="#f93a3a"/><text x="819.7" y="2267.5" font-size="28">Fibroblast</text></g>
</g>
</g>

<!-- PANEL C -->
<g id="panel-c">
<text x="1103" y="760" font-size="45" font-weight="700" style="fill:#000;font-weight:700">c</text>
<rect x="1482" y="751" width="27" height="27" fill="#e5492f" stroke="#555" stroke-width="1.6"/>
<text x="1520" y="774.5" font-size="24">Primary</text>
<rect x="1623" y="751" width="27" height="27" fill="#4cb9d3" stroke="#555" stroke-width="1.6"/>
<text x="1661" y="774.5" font-size="24">Secondary</text>
<text transform="translate(1158,905) rotate(-90)" font-size="28" text-anchor="middle">Probability</text>
<text x="1573" y="1189" font-size="28" text-anchor="middle">Putative cell type</text>
<rect x="1243" y="797" width="757" height="201.5" fill="none" stroke="#000" stroke-width="3"/>
<g id="violins"></g>
<g id="c-axes"></g>
</g>

<!-- PANEL D -->
<g id="panel-d">
<text x="1103" y="1282" font-size="45" font-weight="700" style="fill:#000;font-weight:700">d</text>
<g id="heat"></g>
<g id="d-axes"></g>
<text x="1874" y="1879.5" font-size="28">Z-score</text>
<g id="cbar"></g>
</g>
</svg>

<script>
// ===== Panel c data =====
const cellTypes=["Mali/Chola","Hepatocyte","Endothelial","Fibroblast","B cell","Plasma cell","Macrophage","DC","T/NK"];
const probGrid=[0,.05,.1,.15,.2,.25,.3,.35,.4,.45,.5,.55,.6,.65,.7,.75,.8,.85,.9,.95,1];
const probTicks=["0.00","0.25","0.50","0.75","1.00"];
const primaryDensity=[
[0,0,0,.5,1,2,6,10,12,13,13,12,11,10,9,9,9,9,10,10,12],
[0,0,0,0,1,4,8,11,12,12,11,10,10,10,10,11,11,10,10,12,16],
[0,0,0,0,1,10,28,32,28,20,15,12,9,6,4,3,3,2,2,2,3],
[0,0,0,0,1,5,12,17,17,16,14,13,11,9,8,7,6,6,6,7,9],
[0,0,0,1,8,25,38,36,28,20,14,6,3,2,1,.5,.5,.5,.3,.3,.3],
[0,0,0,0,2,8,17,20,20,18,14,13,12,11,10,10,10,11,12,12,12],
[0,0,0,0,1,8,20,27,26,22,18,13,9,6,4,3,3,2,2,2,4],
[0,0,0,1,6,25,42,36,28,20,14,8,3,1,1,.5,.3,.3,.3,.3,.3],
[0,0,0,0,1,6,16,24,25,25,24,20,16,12,10,8,6,4,2,1,1]];
const secondaryDensity=[
[18,14,16,22,30,33,28,18,8,3,1,0,0,0,0,0,0,0,0,0,0],
[32,20,25,24,26,28,22,15,7,2,0,0,0,0,0,0,0,0,0,0,0],
[2,3,6,18,42,54,42,22,8,1,0,0,0,0,0,0,0,0,0,0,0],
[14,12,14,24,34,39,30,18,9,3,0,0,0,0,0,0,0,0,0,0,0],
[.5,1,3,20,42,58,44,25,12,4,0,0,0,0,0,0,0,0,0,0,0],
[26,16,15,24,38,40,28,18,6,2,0,0,0,0,0,0,0,0,0,0,0],
[10,4,7,20,36,46,34,22,8,2,0,0,0,0,0,0,0,0,0,0,0],
[.3,1,2,12,45,64,44,22,8,2,0,0,0,0,0,0,0,0,0,0,0],
[0,3,10,24,36,42,35,22,8,2,0,0,0,0,0,0,0,0,0,0,0]];

// ===== Panel d data =====
const genes=["KRT19","EPCAM","SPP1","ALB","TTR","APOA1","VWF","ACKR1","CDH5","COL1A1","BGN","PDGFRB","MS4A1","BANK1","BCL11A","IGLL5","SSR4","MZB1","JCHAIN","C1QB","CD68","LYZ","HLA−DQB1","HLA−DRA","CD1C","IL7R","CD3D","CD3E","CD3G"];
const heatValues=[
[2.48,-.55,-.5,-.05,.1,-.3,-.4,-.15,-.75],
[2.48,-.25,-.45,-.25,-.05,-1,-.15,-.15,-.25],
[2.2,-.15,-1,-.45,.1,-.75,.65,.5,-1.05],
[-.05,2.48,-.3,-.4,-.35,-.2,-.45,-.5,-.4],
[.1,2.48,-.2,-.5,-.25,-.45,-.5,-.7,-.2],
[-.35,2.48,-.15,-.3,-.35,-.4,-.4,-.5,-.3],
[-.8,-.45,2.48,-.2,.25,-.7,-.5,-.3,0],
[-.9,-.4,2.35,-.4,.4,-.8,-.6,.25,-.4],
[-.7,-.45,2.45,-.15,-.1,-.3,-.5,-.2,-.2],
[-1.36,0,-.4,2.25,-.05,-.75,.4,.05,-.35],
[-1.2,-1.05,.1,2.25,.3,-.75,.15,.05,-.35],
[-1.15,-.95,.2,2.3,-.15,-.7,-.05,.3,-.35],
[-.6,-.1,-.55,-.5,2.48,-.5,-.2,-.7,.5],
[-.7,-.1,-.1,-.5,2.42,-1,-.05,-.65,.4],
[.05,-.35,-.65,-.8,2.42,-.45,-.1,-.2,-.2],
[-.75,-.75,-.55,-.25,-.05,2.48,-.15,-.2,-.05],
[-.15,-.85,-.6,-.25,0,2.45,-.3,-.25,-.2],
[-.45,-.4,-.35,-.3,-.2,2.45,-.25,-.3,-.15],
[-.55,-.55,-.35,-.3,-.1,2.45,-.25,-.3,-.1],
[-1.1,-1.25,-.75,-.25,-.15,-.05,2.1,.55,.3],
[-.45,-.7,-.55,-.15,-.4,.05,2.48,-.35,.05],
[-.95,-.55,-.85,-.55,-.4,-.4,.85,2.25,.1],
[-.8,-.9,-.45,-.4,-.3,-.4,.35,2.48,-.02],
[-.4,-.4,-.35,-.4,-.55,-.05,-.2,2.45,-.45],
[-.35,-.35,-.3,-.35,-.3,-.55,-.3,2.45,-.15],
[-1.1,-.95,-.3,-.5,.2,.25,-.1,-.2,2.48],
[-.5,-.7,-.35,-.35,-.05,-.1,-.2,-.25,2.48],
[-.85,-.5,-.55,-.7,-.05,-.1,-.05,-.05,2.45],
[-.75,-.75,-.2,-.55,-.15,.3,-.1,-.5,2.48]];
const colorbarTicks=[2,1,0,-1];
const colorbarTickLabels=["2","1","0","−1"];

// ===== Illustration mosaics (panel a) =====
const miniLegendColors=["#8296d6","#0a70b8","#fbb03b","#e6409a","#0f9b85","#92cdb0","#f7d3a3","#6fc13f","#f93a3a"];
const spotPalette={p:"#f8cf9d",t:"#93d0b5",r:"#ef4444",m:"#e64a9b",y:"#f6a623",b:"#7f95d5",g:"#4caf50",w:"#ffffff"};
const insetA=["ppppptpppppppp","pppppppppppppp","ppppbppppppppp","pppppppppppppp","ppppbppppppppp","pppptppppppppp","pppppppppppppp","pppppppppmpppp","pppppppppppppp","pppppppppppppp","pppptppppppppp","pppppppppppppp","ppptpppppppppp","pppptppppppppp"];
const insetB=["tmmtttmttmtttm","ttmtymmptttmtt","mtttpmtmpttmtt","tmtmmpytmyttpt","tttmyywwwyytmt","tmtmywwwwwyptt","ttmttmmmyypptt","mtbtttmyypppmt","tttmttyyypmppt","tmtttmtyppppmp","ttwtmttmpppmpp","tttmtmttpmpppp","mtttmtpmtmpppt","ttmttmtttmttmp"];
const insetC=["rtrttrbtrrttrt","ttrtbrrbtrbttr","trttrbrttrttrt","tttrttrttttrtt","rttttrrttttttr","ttrbrrtttttrrt","tgrrbrttttrttt","trrrttrttrrtrt","tttrrttttrbrrt","rrtrtttrrrtrrt","gttrtbtrrtrrrr","trrgttrrrtrrbr","rbrtttrrtrrrrt","ggrtrtrrrbrrgr"];
const thumbPalette={b:"#4f81bd",l:"#7fb2d6",c:"#bcd9ea",y:"#f6e7a3",o:"#f4a864",r:"#e0664a",d:"#c8402e"};
const thumbRows=["lcyo","blco","blor","lbyr","cbyo","lblo","clyo","llrd","lylo","boly","lllo","byor","lolr","bccl"];

const NS="http://www.w3.org/2000/svg";
function mk(tag,parent,attrs){
  const el=document.createElementNS(NS,tag);
  for(const k in attrs){el.setAttribute(k,attrs[k]);}
  parent.appendChild(el);
  return el;
}
function slug(s){return s.toLowerCase().replace(/[^a-z0-9]+/g,'-');}

// Violin axes
const probToY=p=>989.2-183.7*p;
const catToX=i=>1292+82.3*i;
const densToPx=d=>d/1.7025;
function violinPath(cx,dens,sign){
  const pts=dens.map((d,k)=>[cx+sign*densToPx(d),probToY(probGrid[k])]);
  let d="M"+cx+","+probToY(0)+" L"+pts[0][0].toFixed(2)+","+pts[0][1].toFixed(2);
  for(let i=1;i<pts.length;i++){
    const mx=(pts[i-1][0]+pts[i][0])/2,my=(pts[i-1][1]+pts[i][1])/2;
    d+=" Q"+pts[i-1][0].toFixed(2)+","+pts[i-1][1].toFixed(2)+" "+mx.toFixed(2)+","+my.toFixed(2);
  }
  const last=pts[pts.length-1];
  d+=" L"+last[0].toFixed(2)+","+last[1].toFixed(2)+" L"+cx+","+probToY(1)+"Z";
  return d;
}
const vG=document.getElementById('violins');
const cAx=document.getElementById('c-axes');
cellTypes.forEach((name,i)=>{
  const cx=catToX(i);
  const p1=mk('path',vG,{d:violinPath(cx,primaryDensity[i],-1),fill:'#e5492f',stroke:'#3a3a3a','stroke-width':1.6});
  
  
  const p2=mk('path',vG,{d:violinPath(cx,secondaryDensity[i],1),fill:'#4cb9d3',stroke:'#3a3a3a','stroke-width':1.6});
  
  
  const t=mk('path',cAx,{d:'M'+cx+',797 V803 M'+cx+',998 V1005',stroke:'#000','stroke-width':2});
  
  
  const lb=mk('text',cAx,{transform:'translate('+(cx+1)+',1021) rotate(-60)','text-anchor':'end','font-size':28,'font-style':'italic'});
  lb.textContent=name;
  
  
});
probTicks.forEach(label=>{
  const y=probToY(parseFloat(label));
  const t=mk('path',cAx,{d:'M1237,'+y+' H1243',stroke:'#000','stroke-width':2});
  
  
  const lb=mk('text',cAx,{x:1233,y:y+6.5,'text-anchor':'end','font-size':27.5});
  lb.textContent=label;
  
  
});

// Viridis scale
const viridisStops=["#440154","#482878","#3e4989","#31688e","#26828e","#1f9e89","#35b779","#6ece58","#b5de2b","#fde725"];
function hex(c){return [1,3,5].map(i=>parseInt(c.substr(i,2),16));}
function viridis(t){
  t=Math.max(0,Math.min(1,t))*(viridisStops.length-1);
  const i=Math.min(Math.floor(t),viridisStops.length-2),f=t-i;
  const a=hex(viridisStops[i]),b=hex(viridisStops[i+1]);
  return 'rgb('+a.map((v,k)=>Math.round(v+(b[k]-v)*f)).join(',')+')';
}
const zMin=-1.36,zMax=2.48;
const zColor=z=>viridis((z-zMin)/(zMax-zMin));
const heatX=c=>1316.7+59*c;
const heatY=r=>1307.6+27.57*r;
const hG=document.getElementById('heat');
const dAx=document.getElementById('d-axes');
heatValues.forEach((row,r)=>{
  row.forEach((v,c)=>{
    const cell=mk('rect',hG,{x:heatX(c),y:heatY(r),width:59,height:27.57,fill:zColor(v),stroke:'#151525','stroke-width':1.1});
    
    
  });
  const lb=mk('text',dAx,{x:1304.5,y:heatY(r)+19,'text-anchor':'end','font-size':28,'font-style':'italic'});
  lb.textContent=genes[r];
  
  
});
cellTypes.forEach((name,c)=>{
  const lb=mk('text',dAx,{transform:'translate('+(heatX(c)+29.5+5)+',2135) rotate(-45.5)','text-anchor':'end','font-size':28,'font-style':'italic'});
  lb.textContent=name;
  
  
});

// Colorbar
const cb=document.getElementById('cbar');
const zToY=z=>2025-51.8*z;
for(let y=1896.5;y<2095.5;y+=3){
  const z=(2025-y)/51.8;
  const s=mk('rect',cb,{x:1874.7,y:y,width:40.3,height:3.4,fill:zColor(z)});
  
  
}
colorbarTicks.forEach((z,i)=>{
  const y=zToY(z);
  const t=mk('path',cb,{d:'M1874.7,'+y+' h8 M1907,'+y+' h8',stroke:'#fff','stroke-width':1.4,opacity:.75});
  
  
  const lb=mk('text',cb,{x:1925,y:y+8,'font-size':26.5});
  lb.textContent=colorbarTickLabels[i];
  
  
});

// Mini legend
const ml=document.getElementById('mini-legend');
miniLegendColors.forEach((col,i)=>{
  const y=326+13.75*i;
  const s=mk('rect',ml,{x:1003,y:y,width:7,height:8,fill:col});
  
  
  const d=mk('path',ml,{d:'M1014,'+(y+4)+' h2 m2,0 h2',stroke:'#999','stroke-width':1.6});
  
  
});

// Insets
const insG=document.getElementById('insets');
function inset(grid,x,y,w,h,name){
  const g=mk('g',insG,{});
  
  
  const cw=w/grid[0].length,ch=h/grid.length;
  mk('rect',g,{x:x,y:y,width:w,height:h,fill:'#fff'});
  grid.forEach((row,r)=>{
    [...row].forEach((k,c)=>{
      mk('rect',g,{x:x+c*cw+.3,y:y+r*ch+.3,width:cw-.6,height:ch-.6,fill:spotPalette[k]});
    });
  });
  mk('rect',g,{x:x,y:y,width:w,height:h,fill:'none',stroke:'#111','stroke-width':2});
}
inset(insetA,1396,236,83.5,84,'inset-paratumor');
inset(insetB,1389.5,354.7,80,81.5,'inset-margin');
inset(insetC,1438.6,460.5,83.5,83.5,'inset-tumor');

// RNA mini heatmap
const mh=document.getElementById('mini-heatmap');
thumbRows.forEach((row,r)=>{
  [...row].forEach((k,c)=>{
    const s=mk('rect',mh,{x:1055+c*32.5,y:633+r*15.5,width:31,height:14,fill:thumbPalette[k]});
    
    
  });
});
</script>
</body>
</html>
